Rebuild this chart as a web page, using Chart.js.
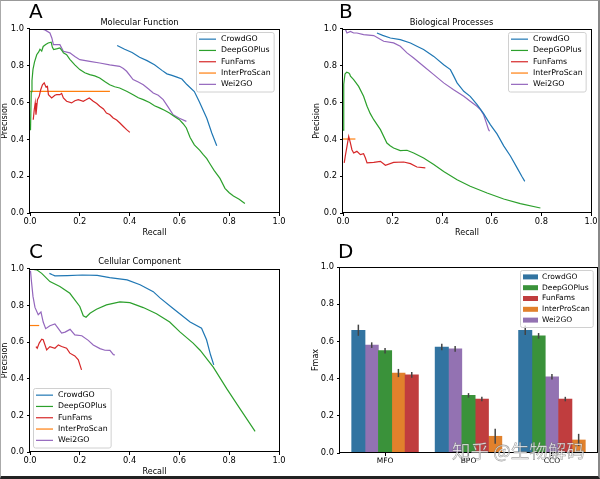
<!DOCTYPE html>
<html>
<head>
<meta charset="utf-8">
<script src="https://cdn.jsdelivr.net/npm/chart.js@4.4.0/dist/chart.umd.min.js"></script>
<style>
body { margin: 0; background: #fff; }
#wrap { position: relative; width: 600px; height: 479px; overflow: hidden; background: #fff; }
#wrap canvas { position: absolute; }
.letter { position: absolute; font-family: 'DejaVu Sans'; font-size: 20px; line-height: 20px; color: #000; }
#edge { position: absolute; left: 0; top: 0; width: 600px; height: 479px; box-sizing: border-box;
        border-top: 1px solid #999; border-left: 1px solid #aaa; border-right: 2px solid #888; border-bottom: 3px solid #222; }
#mark { position: absolute; left: 452px; top: 437px; font-family: 'Noto Sans CJK SC'; font-size: 18.5px;
        color: rgba(255,255,255,0.85); -webkit-text-stroke: 0.6px rgba(80,80,80,0.55); white-space: nowrap; }
</style>
</head>
<body>
<div id="wrap">
  <canvas id="chartA" width="290" height="240" style="left:0;top:0"></canvas>
  <canvas id="chartB" width="288" height="240" style="left:312px;top:0"></canvas>
  <canvas id="chartC" width="290" height="239" style="left:0;top:240px"></canvas>
  <canvas id="chartD" width="289" height="239" style="left:311px;top:240px"></canvas>
  <div class="letter" style="left:29px;top:1px">A</div>
  <div class="letter" style="left:339px;top:1px">B</div>
  <div class="letter" style="left:29px;top:241px">C</div>
  <div class="letter" style="left:338px;top:241px">D</div>
  <div id="mark">知乎 @生物解码</div>
  <div id="edge"></div>
</div>
<script>
const methods = ['CrowdGO', 'DeepGOPlus', 'FunFams', 'InterProScan', 'Wei2GO'];

// Panel A - Molecular Function, [recall, precision]
const mfCrowdGO = [[0.35,0.91],[0.38,0.89],[0.41,0.872],[0.44,0.846],[0.47,0.828],[0.50,0.805],[0.53,0.775],[0.55,0.756],[0.57,0.748],[0.59,0.738],[0.61,0.728],[0.63,0.698],[0.66,0.66],[0.68,0.605],[0.71,0.515],[0.73,0.435],[0.75,0.365]];
const mfDeepGOPlus = [[0.002,0.45],[0.005,0.66],[0.008,0.72],[0.012,0.78],[0.018,0.82],[0.027,0.86],[0.035,0.875],[0.04,0.89],[0.047,0.88],[0.053,0.905],[0.063,0.915],[0.073,0.924],[0.085,0.928],[0.09,0.9],[0.095,0.888],[0.11,0.893],[0.12,0.897],[0.13,0.88],[0.134,0.87],[0.147,0.86],[0.16,0.835],[0.18,0.805],[0.2,0.779],[0.22,0.762],[0.24,0.752],[0.26,0.745],[0.28,0.734],[0.30,0.715],[0.32,0.697],[0.34,0.686],[0.36,0.679],[0.39,0.66],[0.414,0.643],[0.435,0.626],[0.455,0.616],[0.48,0.6],[0.50,0.583],[0.52,0.571],[0.54,0.558],[0.56,0.543],[0.58,0.525],[0.6,0.507],[0.615,0.485],[0.628,0.462],[0.643,0.41],[0.66,0.37],[0.682,0.34],[0.695,0.318],[0.71,0.295],[0.725,0.262],[0.74,0.23],[0.763,0.188],[0.783,0.134],[0.80,0.11],[0.817,0.092],[0.84,0.075],[0.863,0.052]];
const mfFunFams = [[0.013,0.507],[0.017,0.56],[0.021,0.598],[0.024,0.534],[0.03,0.616],[0.037,0.634],[0.043,0.67],[0.05,0.697],[0.057,0.707],[0.064,0.685],[0.07,0.688],[0.074,0.643],[0.087,0.625],[0.1,0.64],[0.107,0.643],[0.12,0.643],[0.127,0.65],[0.134,0.625],[0.147,0.607],[0.167,0.598],[0.18,0.61],[0.194,0.616],[0.214,0.607],[0.225,0.615],[0.238,0.625],[0.254,0.607],[0.268,0.595],[0.28,0.58],[0.295,0.565],[0.307,0.543],[0.32,0.535],[0.334,0.516],[0.348,0.505],[0.361,0.489],[0.375,0.47],[0.388,0.453],[0.401,0.438]];
const mfInterProScan = [[0,0.661],[0.321,0.661]];
const mfWei2GO = [[0.045,1.0],[0.06,0.995],[0.08,0.978],[0.088,0.95],[0.094,0.915],[0.12,0.915],[0.134,0.879],[0.16,0.87],[0.18,0.85],[0.2,0.833],[0.24,0.824],[0.28,0.815],[0.32,0.805],[0.36,0.797],[0.375,0.785],[0.388,0.77],[0.414,0.725],[0.435,0.712],[0.455,0.697],[0.475,0.675],[0.495,0.652],[0.515,0.64],[0.535,0.616],[0.555,0.575],[0.575,0.534],[0.6,0.515],[0.628,0.498]];

// Panel B - Biological Processes
const bpCrowdGO = [[0.137,0.978],[0.16,0.965],[0.191,0.951],[0.231,0.942],[0.272,0.924],[0.3,0.905],[0.325,0.888],[0.366,0.851],[0.406,0.806],[0.433,0.779],[0.446,0.745],[0.46,0.707],[0.487,0.661],[0.513,0.634],[0.54,0.59],[0.567,0.54],[0.594,0.48],[0.621,0.43],[0.648,0.365],[0.675,0.31],[0.702,0.245],[0.722,0.197],[0.733,0.172]];
const bpDeepGOPlus = [[0.0,0.45],[0.003,0.7],[0.008,0.755],[0.015,0.765],[0.023,0.761],[0.027,0.755],[0.03,0.743],[0.043,0.725],[0.063,0.688],[0.083,0.634],[0.097,0.58],[0.11,0.54],[0.124,0.507],[0.151,0.453],[0.177,0.38],[0.19,0.365],[0.204,0.353],[0.231,0.339],[0.258,0.341],[0.285,0.326],[0.325,0.299],[0.366,0.263],[0.406,0.226],[0.46,0.181],[0.513,0.145],[0.581,0.109],[0.648,0.076],[0.715,0.051],[0.796,0.027]];
const bpFunFams = [[0.005,0.272],[0.009,0.308],[0.016,0.362],[0.023,0.417],[0.03,0.38],[0.036,0.344],[0.043,0.326],[0.056,0.335],[0.07,0.317],[0.083,0.322],[0.09,0.3],[0.097,0.272],[0.124,0.275],[0.151,0.281],[0.171,0.259],[0.204,0.275],[0.245,0.277],[0.272,0.268],[0.298,0.25],[0.332,0.245]];
const bpInterProScan = [[0,0.402],[0.05,0.402]];
const bpWei2GO = [[0.009,1.0],[0.016,0.978],[0.03,0.987],[0.043,0.978],[0.056,0.978],[0.083,0.969],[0.124,0.964],[0.164,0.933],[0.204,0.924],[0.231,0.906],[0.258,0.87],[0.285,0.842],[0.325,0.797],[0.366,0.752],[0.406,0.707],[0.446,0.67],[0.487,0.634],[0.513,0.607],[0.54,0.58],[0.555,0.56],[0.567,0.534],[0.578,0.49],[0.587,0.453],[0.591,0.444]];

// Panel C - Cellular Component
const ccCrowdGO = [[0.078,0.976],[0.09,0.968],[0.1,0.962],[0.15,0.964],[0.21,0.967],[0.27,0.965],[0.32,0.953],[0.39,0.94],[0.442,0.914],[0.495,0.876],[0.522,0.842],[0.576,0.783],[0.643,0.71],[0.689,0.676],[0.709,0.613],[0.725,0.531],[0.738,0.476]];
const ccDeepGOPlus = [[0,1.0],[0.027,0.995],[0.047,0.976],[0.08,0.931],[0.12,0.904],[0.16,0.867],[0.2,0.795],[0.214,0.744],[0.225,0.736],[0.241,0.758],[0.267,0.78],[0.307,0.804],[0.361,0.82],[0.401,0.816],[0.455,0.789],[0.508,0.755],[0.561,0.71],[0.602,0.656],[0.655,0.595],[0.683,0.556],[0.736,0.464],[0.79,0.346],[0.843,0.237],[0.904,0.113]];
const ccFunFams = [[0.024,0.576],[0.029,0.567],[0.037,0.595],[0.047,0.616],[0.053,0.613],[0.067,0.558],[0.08,0.576],[0.1,0.567],[0.114,0.585],[0.127,0.576],[0.147,0.567],[0.16,0.54],[0.18,0.525],[0.194,0.504],[0.207,0.449]];
const ccInterProScan = [[0,0.691],[0.037,0.691]];
const ccWei2GO = [[0.002,0.99],[0.006,0.93],[0.012,0.85],[0.02,0.79],[0.033,0.75],[0.044,0.765],[0.053,0.71],[0.063,0.674],[0.08,0.69],[0.1,0.7],[0.114,0.674],[0.127,0.65],[0.141,0.655],[0.161,0.67],[0.18,0.64],[0.208,0.635],[0.234,0.61],[0.254,0.585],[0.281,0.565],[0.301,0.556],[0.321,0.555],[0.335,0.532],[0.341,0.53]];

// Panel D - Fmax per ontology
const barGroups = ['MFO', 'BPO', 'CCO'];
const fmaxCrowdGO = [0.66, 0.57, 0.66];
const fmaxDeepGOPlus = [0.55, 0.31, 0.63];
const fmaxFunFams = [0.42, 0.29, 0.29];
const fmaxInterProScan = [0.43, 0.09, 0.07];
const fmaxWei2GO = [0.58, 0.56, 0.41];
const errCrowdGO = [0.03, 0.017, 0.025];
const errDeepGOPlus = [0.015, 0.012, 0.015];
const errFunFams = [0.015, 0.012, 0.012];
const errInterProScan = [0.022, 0.04, 0.033];
const errWei2GO = [0.015, 0.015, 0.015];

const lineColors = ['#1f77b4', '#2ca02c', '#d62728', '#ff7f0e', '#9467bd'];
const barColors = ['#3274a1', '#3a923a', '#c03d3e', '#e1812c', '#9372b2'];

Chart.defaults.font.family = "'DejaVu Sans'";
Chart.defaults.color = '#000';

// box around the plot area (matplotlib spines)
const frame = {
    id: 'frame',
    afterDatasetsDraw(chart) {
        const a = chart.chartArea, ctx = chart.ctx;
        ctx.save();
        ctx.strokeStyle = '#000';
        ctx.lineWidth = 1;
        ctx.strokeRect(Math.round(a.left) - 0.5, Math.round(a.top) + 0.5,
                       Math.round(a.right - a.left) + 1, Math.round(a.bottom - a.top) - 1);
        ctx.restore();
    }
};

// matplotlib style legend box drawn inside the plot area
const mplLegend = {
    id: 'mplLegend',
    afterDraw(chart, args, opts) {
        const {ctx, chartArea: a} = chart;
        const items = chart.data.datasets;
        ctx.save();
        ctx.font = opts.fontSize + "px 'DejaVu Sans'";
        const textW = Math.max(...items.map(d => ctx.measureText(d.label).width));
        const w = opts.textX + textW + 3;
        const h = items.length * opts.rowH + 3;
        let x, y;
        if (opts.loc === 'lower left') {
            x = a.left + 3;
            y = a.bottom - 5 - h;
        } else {
            x = a.right - opts.dx - w;
            y = a.top + 3;
        }
        x = Math.round(x); y = Math.round(y);
        ctx.fillStyle = 'rgba(255,255,255,0.8)';
        ctx.strokeStyle = '#d0d0d0';
        ctx.lineWidth = 1;
        ctx.beginPath();
        ctx.roundRect(x + 0.5, y + 0.5, w, h, 2);
        ctx.fill();
        ctx.stroke();
        ctx.textBaseline = 'middle';
        items.forEach((d, i) => {
            const cy = y + 1.5 + opts.rowH * (i + 0.5);
            if (opts.patch) {
                ctx.fillStyle = d.backgroundColor;
                ctx.fillRect(x + 3, cy - 2.5, 15, 5);
            } else {
                ctx.strokeStyle = d.borderColor;
                ctx.lineWidth = 1.2;
                ctx.beginPath();
                ctx.moveTo(x + 3, cy);
                ctx.lineTo(x + 20, cy);
                ctx.stroke();
            }
            ctx.fillStyle = '#000';
            ctx.fillText(d.label, x + opts.textX, cy);
        });
        ctx.restore();
    }
};

// error bars on top of the bars
const errorBars = {
    id: 'errorBars',
    afterDatasetsDraw(chart) {
        const ctx = chart.ctx, yScale = chart.scales.y;
        ctx.save();
        ctx.strokeStyle = '#444';
        ctx.lineWidth = 1.5;
        chart.data.datasets.forEach((ds, i) => {
            chart.getDatasetMeta(i).data.forEach((bar, j) => {
                const v = ds.data[j].y, e = ds.errors[j];
                ctx.beginPath();
                ctx.moveTo(bar.x, yScale.getPixelForValue(v - e));
                ctx.lineTo(bar.x, yScale.getPixelForValue(v + e));
                ctx.stroke();
            });
        });
        ctx.restore();
    }
};

function unitAxis(label, isX, size) {
    return {
        type: 'linear', min: 0, max: 1,
        ticks: { stepSize: 0.2, font: { size: 8.3 }, padding: isX ? 1 : 3, maxRotation: 0,
                 callback: v => v.toFixed(1) },
        grid: { drawOnChartArea: false, drawTicks: true, tickLength: 3, color: '#000' },
        border: { display: false },
        title: { display: true, text: label, font: { size: 8 },
                 padding: isX ? { top: 0, bottom: 2 } : 0 },
        afterFit: s => { if (isX) s.height = size; else s.width = size; }
    };
}

// Precision / recall panel
function prChart(id, title, series, cfg) {
    return new Chart(document.getElementById(id), {
        type: 'line',
        data: {
            datasets: methods.map((name, i) => ({
                label: name,
                data: series[i].map(p => ({ x: p[0], y: p[1] })),
                borderColor: lineColors[i],
                backgroundColor: lineColors[i],
                borderWidth: 1.2,
                pointRadius: 0,
                tension: 0
            }))
        },
        options: {
            responsive: false,
            animation: false,
            devicePixelRatio: 1,
            layout: { padding: { left: 0, right: cfg.padRight, top: 0, bottom: 0 } },
            plugins: {
                legend: { display: false },
                tooltip: { enabled: false },
                title: { display: true, text: title, font: { size: 8.3, weight: 'normal' },
                         padding: { top: cfg.titleTop, bottom: cfg.titleBottom } },
                mplLegend: { loc: cfg.legendLoc, dx: 5, fontSize: 7.8, rowH: 11.3, textX: 25, patch: false }
            },
            scales: {
                x: unitAxis('Recall', true, cfg.xHeight),
                y: unitAxis('Precision', false, cfg.yWidth)
            }
        },
        plugins: [frame, mplLegend]
    });
}

prChart('chartA', 'Molecular Function',
    [mfCrowdGO, mfDeepGOPlus, mfFunFams, mfInterProScan, mfWei2GO],
    { padRight: 11, titleTop: 18, titleBottom: 1, xHeight: 27, yWidth: 30, legendLoc: 'upper right' });
prChart('chartB', 'Biological Processes',
    [bpCrowdGO, bpDeepGOPlus, bpFunFams, bpInterProScan, bpWei2GO],
    { padRight: 9, titleTop: 18, titleBottom: 1, xHeight: 27, yWidth: 31, legendLoc: 'upper right' });
prChart('chartC', 'Cellular Component',
    [ccCrowdGO, ccDeepGOPlus, ccFunFams, ccInterProScan, ccWei2GO],
    { padRight: 11, titleTop: 17, titleBottom: 2, xHeight: 27, yWidth: 30, legendLoc: 'lower left' });

// Fmax bars, sorted high to low inside each ontology group
const fmax = [fmaxCrowdGO, fmaxDeepGOPlus, fmaxFunFams, fmaxInterProScan, fmaxWei2GO];
const fmaxErr = [errCrowdGO, errDeepGOPlus, errFunFams, errInterProScan, errWei2GO];
const barWidth = 0.16;

function rankIn(g, v) {
    return fmax.filter(vals => vals[g] > v).length;
}

new Chart(document.getElementById('chartD'), {
    type: 'bar',
    data: {
        datasets: methods.map((name, i) => ({
            label: name,
            data: fmax[i].map((v, g) => ({ x: g + (rankIn(g, v) - 2) * barWidth, y: v })),
            errors: fmaxErr[i],
            backgroundColor: barColors[i],
            borderWidth: 0,
            grouped: false,
            barPercentage: 1,
            categoryPercentage: 1
        }))
    },
    options: {
        responsive: false,
        animation: false,
        devicePixelRatio: 1,
        layout: { padding: { left: 0, right: 3, top: 27, bottom: 0 } },
        plugins: {
            legend: { display: false },
            tooltip: { enabled: false },
            mplLegend: { loc: 'upper right', dx: 4, fontSize: 7.5, rowH: 10.8, textX: 22, patch: true }
        },
        scales: {
            x: {
                type: 'linear', min: -0.54, max: 2.54, offset: false,
                afterBuildTicks: s => { s.ticks = barGroups.map((_, i) => ({ value: i })); },
                ticks: { font: { size: 7.5 }, padding: 1, autoSkip: false, maxRotation: 0,
                         callback: v => barGroups[Math.round(v)] },
                grid: { offset: false, drawOnChartArea: false, tickLength: 3, color: '#000' },
                border: { display: false },
                afterFit: s => { s.height = 26; }
            },
            y: {
                type: 'linear', min: 0, max: 1,
                ticks: { stepSize: 0.2, font: { size: 8.3 }, padding: 3, callback: v => v.toFixed(1) },
                grid: { drawOnChartArea: false, tickLength: 3, color: '#000' },
                border: { display: false },
                title: { display: true, text: 'Fmax', font: { size: 8 }, padding: 0 },
                afterFit: s => { s.width = 29; }
            }
        }
    },
    plugins: [errorBars, frame, mplLegend]
});
</script>
</body>
</html>
